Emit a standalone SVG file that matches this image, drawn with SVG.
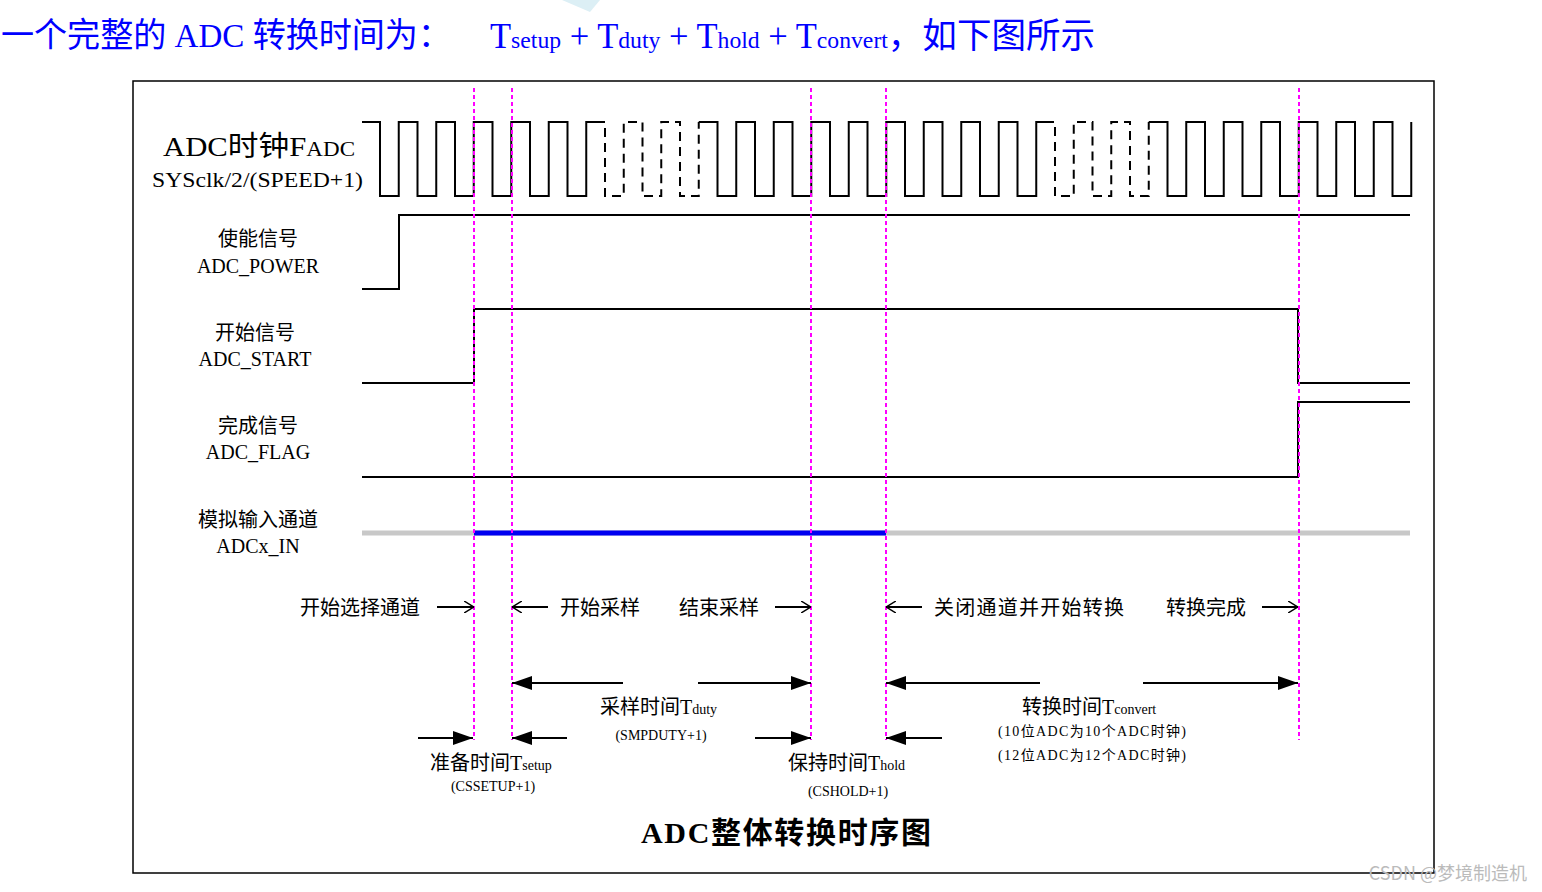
<svg xmlns="http://www.w3.org/2000/svg" width="1542" height="892" viewBox="0 0 1542 892">
<style>
.t{font-family:"Liberation Serif","Noto Sans CJK SC",serif;fill:#000}
.s{fill:none;stroke:#000;stroke-width:2}
.pk{stroke:#f0f;stroke-width:2;stroke-dasharray:4 3}
.ar{stroke:#000;stroke-width:2}
</style>
<defs>
<marker id="big" viewBox="0 0 20 14" refX="20" refY="7" markerWidth="20" markerHeight="14" markerUnits="userSpaceOnUse" orient="auto"><path d="M0 0L20 7L0 14z" fill="#000"/></marker>
<marker id="op" viewBox="0 0 10 12" refX="10" refY="6" markerWidth="10" markerHeight="12" markerUnits="userSpaceOnUse" orient="auto"><path d="M0 0L10 6L0 12" fill="none" stroke="#000" stroke-width="1.5"/></marker>
</defs>
<rect width="1542" height="892" fill="#fff"/>
<path d="M562 0L600 0L590 12z" fill="#dcefF5"/>
<text x="1" y="47" font-family="Liberation Serif,Noto Sans CJK SC,serif" font-size="34" fill="#00f" textLength="450" lengthAdjust="spacingAndGlyphs">一个完整的 ADC 转换时间为：</text>
<text x="490" y="48" font-family="Liberation Serif,serif" font-size="35" fill="#00f" textLength="605" lengthAdjust="spacingAndGlyphs">T<tspan font-size="24">setup</tspan> + T<tspan font-size="24">duty</tspan> + T<tspan font-size="24">hold</tspan> + T<tspan font-size="24">convert</tspan><tspan font-family="Noto Sans CJK SC,serif">，如下图所示</tspan></text>
<rect x="133" y="81" width="1301" height="792" fill="none" stroke="#000" stroke-width="1.5"/>
<g id="labels">
<text class="t" x="163" y="156" font-size="28" textLength="192" lengthAdjust="spacingAndGlyphs">ADC时钟F<tspan font-size="21">ADC</tspan></text>
<text class="t" x="152" y="187" font-size="21" textLength="211" lengthAdjust="spacingAndGlyphs">SYSclk/2/(SPEED+1)</text>
<text class="t" x="258" y="246" font-size="20" text-anchor="middle">使能信号</text>
<text class="t" x="258" y="273" font-size="20" text-anchor="middle">ADC_POWER</text>
<text class="t" x="255" y="340" font-size="20" text-anchor="middle">开始信号</text>
<text class="t" x="255" y="366" font-size="20" text-anchor="middle">ADC_START</text>
<text class="t" x="258" y="433" font-size="20" text-anchor="middle">完成信号</text>
<text class="t" x="258" y="459" font-size="20" text-anchor="middle">ADC_FLAG</text>
<text class="t" x="258" y="527" font-size="20" text-anchor="middle">模拟输入通道</text>
<text class="t" x="258" y="553" font-size="20" text-anchor="middle">ADCx_IN</text>
</g>
<g id="signals">
<path class="s" d="M362 122H380V196H398.75V122H417.5V196H436.25V122H455V196H473.75V122H492.5V196H511.25V122H530V196H548.75V122H567.5V196H586.25V122H596"/>
<path class="s" stroke-dasharray="9 6" d="M596 122H605V196H623.75V122H642.5V196H661.25V122H680V196H698.75V122"/>
<path class="s" d="M698.75 122H717.5V196H736.25V122H755V196H773.75V122H792.5V196H811.25V122H830V196H848.75V122H867.5V196H886.25V122H905V196H923.75V122H942.5V196H961.25V122H980V196H998.75V122H1017.5V196H1036.25V122H1045"/>
<path class="s" stroke-dasharray="9 6" d="M1045 122H1055V196H1073.75V122H1092.5V196H1111.25V122H1130V196H1148.75V122"/>
<path class="s" d="M1148.75 122H1167.5V196H1186.25V122H1205V196H1223.75V122H1242.5V196H1261.25V122H1280V196H1298.75V122H1317.5V196H1336.25V122H1355V196H1373.75V122H1392.5V196H1411.25V122"/>
<path class="s" d="M362 289H399V215H1410"/>
<path class="s" d="M362 383H474V309H1298V383H1410"/>
<path class="s" d="M362 477H1298V402H1410"/>
<path d="M362 533H1410" stroke="#c8c8c8" stroke-width="5"/>
<path d="M474 533H886" stroke="#0000f0" stroke-width="5"/>
</g>
<g id="guides">
<path class="pk" d="M474 88V740M512 88V740M811 88V740M886 88V740M1299 88V740"/>
</g>
<g id="connectors">
<path class="ar" marker-end="url(#op)" d="M437 607H474"/>
<path class="ar" marker-end="url(#op)" d="M548 607H512"/>
<path class="ar" marker-end="url(#op)" d="M775 607H811"/>
<path class="ar" marker-end="url(#op)" d="M922 607H886"/>
<path class="ar" marker-end="url(#op)" d="M1262 607H1298"/>
<path class="ar" marker-end="url(#big)" d="M623 683H512"/>
<path class="ar" marker-end="url(#big)" d="M698 683H811"/>
<path class="ar" marker-end="url(#big)" d="M1040 683H886"/>
<path class="ar" marker-end="url(#big)" d="M1143 683H1298"/>
<path class="ar" marker-end="url(#big)" d="M418 738H473"/>
<path class="ar" marker-end="url(#big)" d="M567 738H512"/>
<path class="ar" marker-end="url(#big)" d="M755 738H811"/>
<path class="ar" marker-end="url(#big)" d="M942 738H886"/>
</g>
<g id="annotations">
<text class="t" x="300" y="615" font-size="20">开始选择通道</text>
<text class="t" x="560" y="615" font-size="20">开始采样</text>
<text class="t" x="679" y="615" font-size="20">结束采样</text>
<text class="t" x="934" y="615" font-size="20" textLength="190">关闭通道并开始转换</text>
<text class="t" x="1166" y="615" font-size="20">转换完成</text>
<text class="t" x="600" y="714" font-size="20">采样时间T<tspan font-size="14">duty</tspan></text>
<text class="t" x="661" y="740" font-size="14" text-anchor="middle">(SMPDUTY+1)</text>
<text class="t" x="430" y="770" font-size="20">准备时间T<tspan font-size="14">setup</tspan></text>
<text class="t" x="493" y="791" font-size="14" text-anchor="middle">(CSSETUP+1)</text>
<text class="t" x="788" y="770" font-size="20">保持时间T<tspan font-size="14">hold</tspan></text>
<text class="t" x="848" y="796" font-size="14" text-anchor="middle">(CSHOLD+1)</text>
<text class="t" x="1022" y="714" font-size="20">转换时间T<tspan font-size="14">convert</tspan></text>
<text class="t" x="1092" y="736" font-size="14" text-anchor="middle" textLength="188">(10位ADC为10个ADC时钟)</text>
<text class="t" x="1092" y="760" font-size="14" text-anchor="middle" textLength="188">(12位ADC为12个ADC时钟)</text>
<text class="t" x="786" y="843" font-size="30" font-weight="bold" text-anchor="middle" textLength="290">ADC整体转换时序图</text>
</g>
<text x="1527" y="880" font-family="Noto Sans CJK SC,sans-serif" font-size="18" fill="#bbb" text-anchor="end">CSDN @梦境制造机</text>
</svg>
